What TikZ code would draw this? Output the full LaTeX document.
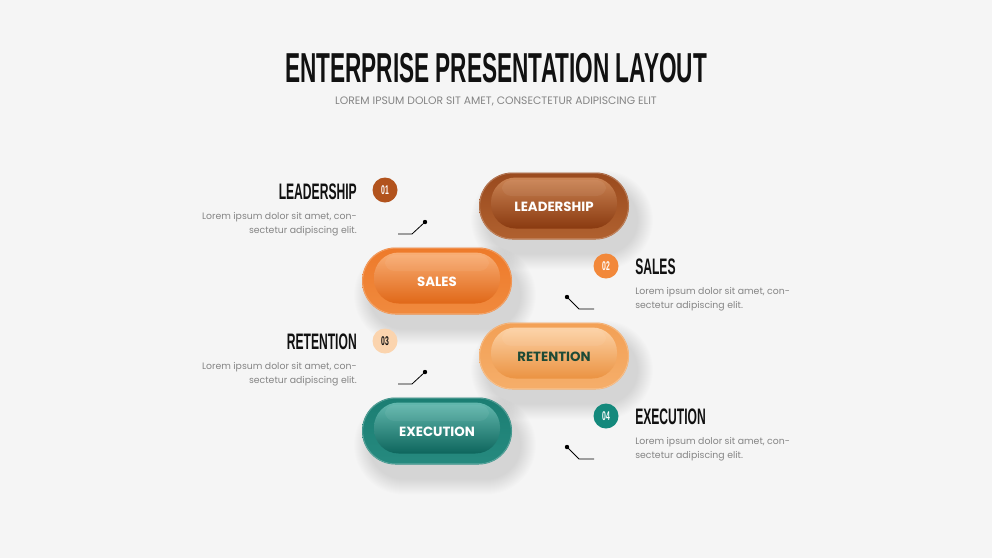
\documentclass[tikz,border=0pt]{standalone}
\usepackage{fontspec}
\setmainfont{Poppins}
\newfontfamily\headfont[FakeStretch=0.54]{Liberation Sans Bold}
\definecolor{bg}{HTML}{F5F5F5}
\definecolor{bodygray}{HTML}{858585}
\definecolor{headblack}{HTML}{111111}
% leadership
\definecolor{leadRimT}{HTML}{9A4A1E}
\definecolor{leadRimB}{HTML}{B0612F}
\definecolor{leadBodT}{HTML}{CB8454}
\definecolor{leadBodM}{HTML}{A8531F}
\definecolor{leadBodB}{HTML}{8A3A10}
\definecolor{leadCirc}{HTML}{B2531D}
% sales
\definecolor{salesRimT}{HTML}{EE7A2A}
\definecolor{salesRimB}{HTML}{F08A3E}
\definecolor{salesBodT}{HTML}{F9AE75}
\definecolor{salesBodM}{HTML}{F37F2D}
\definecolor{salesBodB}{HTML}{E06818}
\definecolor{salesCirc}{HTML}{F2883A}
% retention
\definecolor{retRimT}{HTML}{F3A055}
\definecolor{retRimB}{HTML}{F5AE6A}
\definecolor{retBodT}{HTML}{FCD2A6}
\definecolor{retBodM}{HTML}{F7AA62}
\definecolor{retBodB}{HTML}{EB9342}
\definecolor{retCirc}{HTML}{FBD4AE}
\definecolor{retText}{HTML}{1E4A36}
% execution
\definecolor{exeRimT}{HTML}{1B7E73}
\definecolor{exeRimB}{HTML}{268A7F}
\definecolor{exeBodT}{HTML}{62B8AE}
\definecolor{exeBodM}{HTML}{1A877B}
\definecolor{exeBodB}{HTML}{0E665D}
\definecolor{exeCirc}{HTML}{14897C}
\tikzset{
  pilltext/.style={inner sep=0pt,font=\fontsize{10}{12}\selectfont\bfseries},
  heading/.style={inner sep=0pt,text=headblack,font=\headfont\fontsize{16.8}{18}\selectfont},
  bodytext/.style={inner sep=0pt,text=bodygray,font=\fontsize{7}{9}\selectfont},
  numcirc/.style={circle,inner sep=0pt,minimum size=18.75pt,font=\headfont\fontsize{9.5}{10}\selectfont},
  link/.style={draw=black,line width=0.6pt},
  dotend/.style={circle,fill=black,inner sep=0pt,minimum size=3.3pt}
}
\newcommand\mypill[5]{%
\begin{scope}[shift={#1}]
  \foreach \i in {1,...,16}{%
    \pgfmathsetmacro\rr{(33.5+\i)*0.75}%
    \fill[black,opacity=0.008,rounded corners=\rr pt] (-75+8-\i,-33.5+14-\i) rectangle (75+8+\i,33.5+14+\i);}
  \shade[top color=#2RimT,bottom color=#2RimB,rounded corners=25pt] (-75,-33.5) rectangle (75,33.5);
  \draw[white,opacity=0.25,line width=0.6pt,rounded corners=24.5pt] (-74.3,-32.8) rectangle (74.3,32.8);
  \shade[top color=#2BodT,middle color=#2BodM,bottom color=#2BodB,rounded corners=18.5pt] (-63,-28.5) rectangle (63,22.5);
  \fill[white,opacity=0.06,rounded corners=7pt] (-52,-26) rectangle (52,-10);
\end{scope}
\node[pilltext,text=#5] (#3) at ($#1+(0,1)$) {#4};
}
\usetikzlibrary{calc}
\begin{document}
\begin{tikzpicture}[x=0.75pt,y=-0.75pt]
\fill[bg] (0,0) rectangle (992,558);
\useasboundingbox (0,0) rectangle (992,558);

% title
\node[inner sep=0pt,anchor=base,text=headblack,font=\headfont\fontsize{31.4}{34}\selectfont] (title) at (496,82) {ENTERPRISE PRESENTATION LAYOUT};
\node[inner sep=0pt,anchor=base,text=bodygray,font=\fontsize{8.1}{10}\selectfont] (subtitle) at (496,104.8) {LOREM IPSUM DOLOR SIT AMET, CONSECTETUR ADIPISCING ELIT};

% pills
\mypill{(554,206)}{lead}{p1}{LEADERSHIP}{white}
\mypill{(437,281)}{sales}{p2}{SALES}{white}
\mypill{(554,356)}{ret}{p3}{RETENTION}{retText}
\mypill{(437,431)}{exe}{p4}{EXECUTION}{white}

% block 1 (left)
\node[heading,anchor=base east] (h1) at (357,199) {LEADERSHIP};
\node[numcirc,fill=leadCirc,text=white] (n1) at (385,190) {01};
\node[bodytext,anchor=base east] (b1a) at (357,219.5) {Lorem ipsum dolor sit amet, con-};
\node[bodytext,anchor=base east] (b1b) at (357,233) {sectetur adipiscing elit.};
\coordinate (l1s) at (398,234);
\coordinate (l1m) at (412,234);
\node[dotend] (d1) at (425,222) {};
\draw[link] (l1s) -- (l1m) -- (d1.center);

% block 2 (right)
\node[heading,anchor=base west] (h2) at (635,274) {SALES};
\node[numcirc,fill=salesCirc,text=white] (n2) at (606,266) {02};
\node[bodytext,anchor=base west] (b2a) at (635,294.5) {Lorem ipsum dolor sit amet, con-};
\node[bodytext,anchor=base west] (b2b) at (635,308) {sectetur adipiscing elit.};
\node[dotend] (d2) at (567,297) {};
\coordinate (l2m) at (579,309);
\coordinate (l2e) at (594,309);
\draw[link] (d2.center) -- (l2m) -- (l2e);

% block 3 (left)
\node[heading,anchor=base east] (h3) at (357,349) {RETENTION};
\node[numcirc,fill=retCirc,text=headblack] (n3) at (385,341) {03};
\node[bodytext,anchor=base east] (b3a) at (357,369.5) {Lorem ipsum dolor sit amet, con-};
\node[bodytext,anchor=base east] (b3b) at (357,383) {sectetur adipiscing elit.};
\coordinate (l3s) at (398,384);
\coordinate (l3m) at (412,384);
\node[dotend] (d3) at (425,372) {};
\draw[link] (l3s) -- (l3m) -- (d3.center);

% block 4 (right)
\node[heading,anchor=base west] (h4) at (635,424) {EXECUTION};
\node[numcirc,fill=exeCirc,text=white] (n4) at (606,416) {04};
\node[bodytext,anchor=base west] (b4a) at (635,444.5) {Lorem ipsum dolor sit amet, con-};
\node[bodytext,anchor=base west] (b4b) at (635,458) {sectetur adipiscing elit.};
\node[dotend] (d4) at (567,447) {};
\coordinate (l4m) at (579,459);
\coordinate (l4e) at (594,459);
\draw[link] (d4.center) -- (l4m) -- (l4e);
\end{tikzpicture}
\end{document}
